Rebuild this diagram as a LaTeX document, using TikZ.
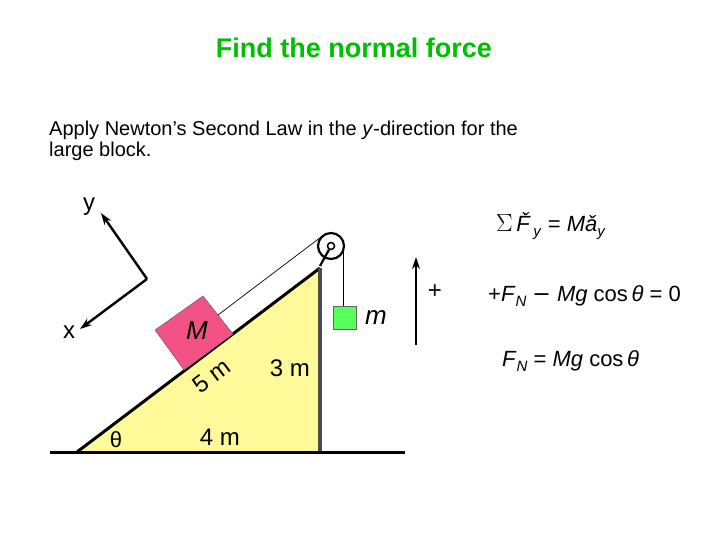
\documentclass[tikz,border=0pt]{standalone}
\usepackage{fontspec}
\setmainfont{Liberation Sans}
\newfontfamily\symf{DejaVu Sans}
\usetikzlibrary{arrows.meta}
\begin{document}
\begin{tikzpicture}[x=1pt,y=-1pt,
  lbl/.style={font=\fontsize{24}{26}\selectfont,inner sep=0pt},
  eq/.style={font=\fontsize{22}{24}\selectfont,inner sep=0pt,anchor=west},
  arr/.style={-{Stealth[length=12pt,width=8pt]},line width=2.4pt}]
\useasboundingbox (0,0) rectangle (720,540);
\node[font=\fontsize{27}{30}\selectfont\bfseries,text={rgb,255:red,0;green,190;blue,0}] (title) at (354,48) {Find the normal force};
\node[anchor=west,align=left,font=\fontsize{20}{21}\selectfont,inner sep=0pt] (txt) at (49,141) {Apply Newton’s Second Law in the \textit{y}-direction for the\\large block.};
% incline
\coordinate (A) at (77,452); \coordinate (B) at (320,452); \coordinate (C) at (320,268);
\fill[yellow!40] (A) -- (B) -- (C) -- cycle;
\draw[line width=3pt] (A) -- (C);
\draw[line width=3.4pt,gray!60!black] (B) -- (C);
\draw[line width=3pt] (50,452) -- (405,452);
% pulley
\node[circle,draw,line width=2.2pt,minimum size=26pt,inner sep=0] (P) at (331,246) {};
\node[circle,draw,line width=1.5pt,minimum size=7pt,inner sep=0] (Pc) at (331,246) {};
\draw[line width=2.2pt] (Pc) -- (320,266);
% block M
\fill[magenta!60!red!70,draw=black!60,line width=0.5pt] (155,330) -- (203,296) -- (233,334) -- (184,370) -- cycle;
\node[lbl,font=\fontsize{26}{28}\selectfont\itshape] (M) at (197,331) {M};
\coordinate (rope1) at (218,315);
\draw[line width=0.7pt] (rope1) -- (321,237);
\draw[line width=0.7pt] (343,246) -- (343,306);
\node[fill=green!65,draw=black!60,minimum size=23pt,inner sep=0] (m) at (345,318) {};
\node[lbl,font=\fontsize{26}{28}\selectfont\itshape] (ml) at (376,318) {m};
% axes
\coordinate (O) at (147,279);
\draw[arr] (O) -- (101,213);
\draw[arr] (O) -- (80,329);
\node[lbl] (ylab) at (89,207) {y};
\node[lbl] (xlab) at (69,332) {x};
% labels
\node[lbl,rotate=37] (l5) at (212,376) {5 m};
\node[lbl] (l3) at (290,368) {3 m};
\node[lbl] (l4) at (220,437) {4 m};
\node[lbl,font=\fontsize{22}{24}\selectfont] (th) at (116,440) {θ};
% plus arrow
\draw[arr] (416,345) -- (416,257);
\node[lbl] (plus) at (435,292) {+};
% equations
\node[eq] (e1) at (496,226) {{\fontsize{26}{26}\selectfont$\Sigma$}\,\textit{F̌}\raisebox{-5pt}{\fontsize{15}{15}\selectfont\textit{y}} = \textit{Mǎ}\raisebox{-5pt}{\fontsize{15}{15}\selectfont\textit{y}}};
\node[eq] (e2) at (488,296) {+\textit{F}\raisebox{-5pt}{\fontsize{15}{15}\selectfont\textit{N}} {\symf−} \textit{Mg} cos\,\textit{θ} = 0};
\node[eq] (e3) at (502,361) {\textit{F}\raisebox{-5pt}{\fontsize{15}{15}\selectfont\textit{N}} = \textit{Mg} cos\,\textit{θ}};
\end{tikzpicture}
\end{document}
